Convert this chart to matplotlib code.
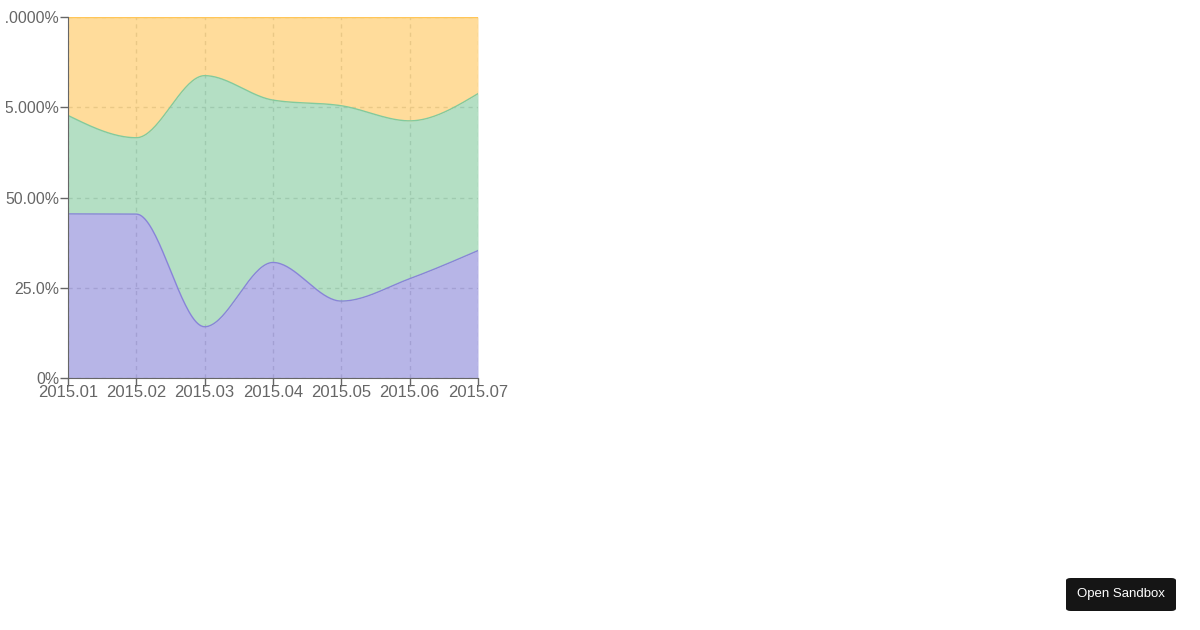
import numpy as np
import matplotlib
matplotlib.use("Agg")
import matplotlib.pyplot as plt
from matplotlib.patches import FancyBboxPatch
from matplotlib.transforms import Bbox, TransformedBbox

# ---- data ----
months = ['2015.01', '2015.02', '2015.03', '2015.04', '2015.05', '2015.06', '2015.07']
series_a = [4000, 3000, 2000, 2780, 1890, 2390, 3490]
series_b = [2400, 1398, 9800, 3908, 4800, 3800, 4300]
series_c = [2400, 2210, 2290, 2000, 2181, 2500, 2100]
y_ticks = [0, 0.25, 0.5, 0.75, 1.0]

colors = ['#8884d8', '#82ca9d', '#ffc658']


def monotone_x(x, y, n=40):
    """d3 curveMonotoneX sampling."""
    x = np.asarray(x, float)
    y = np.asarray(y, float)
    m = len(x)
    t = np.zeros(m)
    for i in range(1, m - 1):
        h0 = x[i] - x[i - 1]
        h1 = x[i + 1] - x[i]
        s0 = (y[i] - y[i - 1]) / h0
        s1 = (y[i + 1] - y[i]) / h1
        p = (s0 * h1 + s1 * h0) / (h0 + h1)
        t[i] = (np.sign(s0) + np.sign(s1)) * min(abs(s0), abs(s1), 0.5 * abs(p))
    h = x[1] - x[0]
    t[0] = (3 * (y[1] - y[0]) / h - t[1]) / 2
    h = x[-1] - x[-2]
    t[-1] = (3 * (y[-1] - y[-2]) / h - t[-2]) / 2
    xs, ys = [], []
    u = np.linspace(0, 1, n)
    for i in range(m - 1):
        dx = (x[i + 1] - x[i]) / 3
        p0 = (x[i], y[i])
        p1 = (x[i] + dx, y[i] + dx * t[i])
        p2 = (x[i + 1] - dx, y[i + 1] - dx * t[i + 1])
        p3 = (x[i + 1], y[i + 1])
        bx = (1 - u) ** 3 * p0[0] + 3 * (1 - u) ** 2 * u * p1[0] + 3 * (1 - u) * u ** 2 * p2[0] + u ** 3 * p3[0]
        by = (1 - u) ** 3 * p0[1] + 3 * (1 - u) ** 2 * u * p1[1] + 3 * (1 - u) * u ** 2 * p2[1] + u ** 3 * p3[1]
        if i > 0:
            bx, by = bx[1:], by[1:]
        xs.append(bx)
        ys.append(by)
    return np.concatenate(xs), np.concatenate(ys)


plt.rcParams['font.family'] = ['Liberation Sans', 'DejaVu Sans']

fig = plt.figure(figsize=(12, 6.3), dpi=100)
ax = fig.add_axes([68 / 1200, 1 - 378 / 630, (478 - 68) / 1200, (378 - 17) / 630])

a = np.array(series_a, float)
b = np.array(series_b, float)
c = np.array(series_c, float)
tot = a + b + c
levels = [np.zeros_like(tot), a / tot, (a + b) / tot, (a + b + c) / tot]
xi = np.arange(len(months))

for k in range(3):
    xl, yl = monotone_x(xi, levels[k])
    xu, yu = monotone_x(xi, levels[k + 1])
    ax.fill_between(xu, yl, yu, color=colors[k], alpha=0.6, linewidth=0, zorder=2)
    ax.plot(xu, yu, color=colors[k], linewidth=1, zorder=3)

ax.set_xlim(0, len(months) - 1)
ax.set_ylim(0, 1)
ax.set_xticks(xi)
ax.set_xticklabels(months)
ax.set_yticks(y_ticks)
ax.set_yticklabels([f"{v * 100:.{i}f}%" for i, v in enumerate(y_ticks)])

ax.grid(True, color='#cccccc', linestyle=(0, (3, 3)), linewidth=1, zorder=1)
ax.set_axisbelow(True)
for s in ['top', 'right']:
    ax.spines[s].set_visible(False)
for s in ['left', 'bottom']:
    ax.spines[s].set_color('#666666')
    ax.spines[s].set_zorder(4)
ax.tick_params(colors='#666666', labelcolor='#666666', labelsize=12, length=6, width=1)
ax.tick_params(axis='y', pad=0.3, labelsize=11.4)
ax.tick_params(axis='x', pad=-1.2)

# the chart container clips the left part of the long y labels
clip = TransformedBbox(Bbox([[6.2 / 1200, 0], [1, 1]]), fig.transFigure)
for lab in ax.get_yticklabels():
    lab.set_clip_box(clip)
    lab.set_clip_on(True)

# Open Sandbox button
btn = FancyBboxPatch((1066 / 1200, 1 - 611 / 630), 110 / 1200, 33 / 630,
                     boxstyle="round,pad=0,rounding_size=0.004", transform=fig.transFigure,
                     facecolor='#151515', edgecolor='none')
fig.patches.append(btn)
fig.text(1121 / 1200, 1 - 594.5 / 630, 'Open Sandbox', color='white', fontsize=9.5,
         ha='center', va='center')

fig.savefig('out.png', dpi=100)
